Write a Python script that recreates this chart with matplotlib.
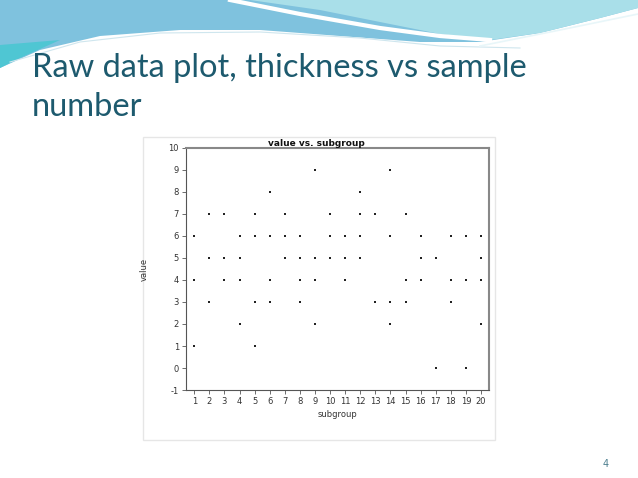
import numpy as np
import matplotlib
matplotlib.use("Agg")
import matplotlib.pyplot as plt
from matplotlib.patches import Rectangle, Polygon

plt.rcParams["axes.unicode_minus"] = False

# raw data: subgroup number and measured value (repeats = overplotted points)
subgroup = [1, 1, 1, 1,
            2, 2, 2, 2,
            3, 3, 3,
            4, 4, 4, 4,
            5, 5, 5, 5,
            6, 6, 6, 6,
            7, 7, 7,
            8, 8, 8, 8,
            9, 9, 9, 9,
            10, 10, 10, 10,
            11, 11, 11, 11,
            12, 12, 12, 12,
            13, 13, 13,
            14, 14, 14, 14,
            15, 15, 15,
            16, 16, 16, 16,
            17, 17,
            18, 18, 18, 18,
            19, 19, 19, 19,
            20, 20, 20, 20]
value = [6, 4, 4, 1,
         7, 5, 5, 3,
         7, 5, 4,
         6, 5, 4, 2,
         7, 6, 3, 1,
         8, 6, 4, 3,
         7, 6, 5,
         6, 5, 4, 3,
         9, 5, 4, 2,
         7, 6, 5, 5,
         6, 5, 5, 4,
         8, 7, 6, 5,
         7, 3, 3,
         9, 6, 3, 2,
         7, 4, 3,
         6, 6, 5, 4,
         5, 0,
         6, 6, 4, 3,
         6, 4, 4, 0,
         6, 5, 4, 2]

x_ticks = list(range(1, 21))
y_ticks = list(range(-1, 11))

W, H = 638, 478
fig = plt.figure(figsize=(W / 100, H / 100), dpi=100)
fig.patch.set_facecolor("white")

# slide background / header decoration, drawn in pixel coords
bg = fig.add_axes([0, 0, 1, 1])
bg.set_xlim(0, W)
bg.set_ylim(H, 0)
bg.axis("off")

band = [(0, 0), (638, 0), (638, 8), (600, 18), (540, 33), (480, 42), (420, 42),
        (340, 36), (260, 30), (180, 30), (100, 36), (40, 50), (0, 68)]
bg.add_patch(Polygon(band, closed=True, color="#7fc2de", lw=0))
light = [(250, 0), (638, 0), (638, 8), (600, 18), (540, 33), (490, 40),
         (440, 34), (380, 22), (320, 10)]
bg.add_patch(Polygon(light, closed=True, color="#a9dfe9", lw=0))
tip = [(0, 45), (60, 40), (20, 58), (0, 68)]
bg.add_patch(Polygon(tip, closed=True, color="#4fc6d3", lw=0))
bg.plot([230, 300, 380, 440, 490], [0, 14, 28, 36, 40], color="white", lw=3)
bg.plot([10, 80, 160, 260, 360, 440, 520], [62, 42, 33, 32, 38, 46, 48],
        color="#cfe6ee", lw=0.8)
bg.plot([480, 560, 638], [46, 30, 14], color="#e8f6f9", lw=1.2)

title_font = ["Lato", "DejaVu Sans"]
bg.text(32, 77, "Raw data plot, thickness vs sample", fontsize=23.5,
        color="#1d5a6e", family=title_font, va="baseline")
bg.text(32, 116, "number", fontsize=23.5, color="#1d5a6e",
        family=title_font, va="baseline")
bg.text(603, 467, "4", fontsize=7, color="#4d7f8f", va="baseline")

# embedded chart picture frame
bg.add_patch(Rectangle((143, 137), 352, 303, facecolor="white",
                       edgecolor="#e6e6e6", lw=1))

ax = fig.add_axes([186 / W, 1 - 390 / H, (489 - 186) / W, (390 - 148) / H])
ax.scatter(subgroup, value, s=2.5, marker="s", color="#222222", lw=0)
ax.set_xlim(0.45, 20.53)
ax.set_ylim(-1, 10)
ax.set_xticks(x_ticks)
ax.set_yticks(y_ticks)
ax.tick_params(labelsize=6, colors="#555555", labelcolor="#333333",
               length=3, width=0.6, pad=2)
for side in ["left", "bottom"]:
    ax.spines[side].set_color("#555555")
    ax.spines[side].set_linewidth(0.8)
for side in ["top", "right"]:
    ax.spines[side].set_color("#888888")
    ax.spines[side].set_linewidth(1.5)
ax.set_xlabel("subgroup", fontsize=6, color="#333333", labelpad=3)
ax.set_ylabel("value", fontsize=6, color="#333333", labelpad=14)

fig.text(316 / W, 1 - 144 / H, "value vs. subgroup", fontsize=6.5,
         fontweight="bold", ha="center", va="center", color="#111111")

fig.savefig("out.png", dpi=100)
